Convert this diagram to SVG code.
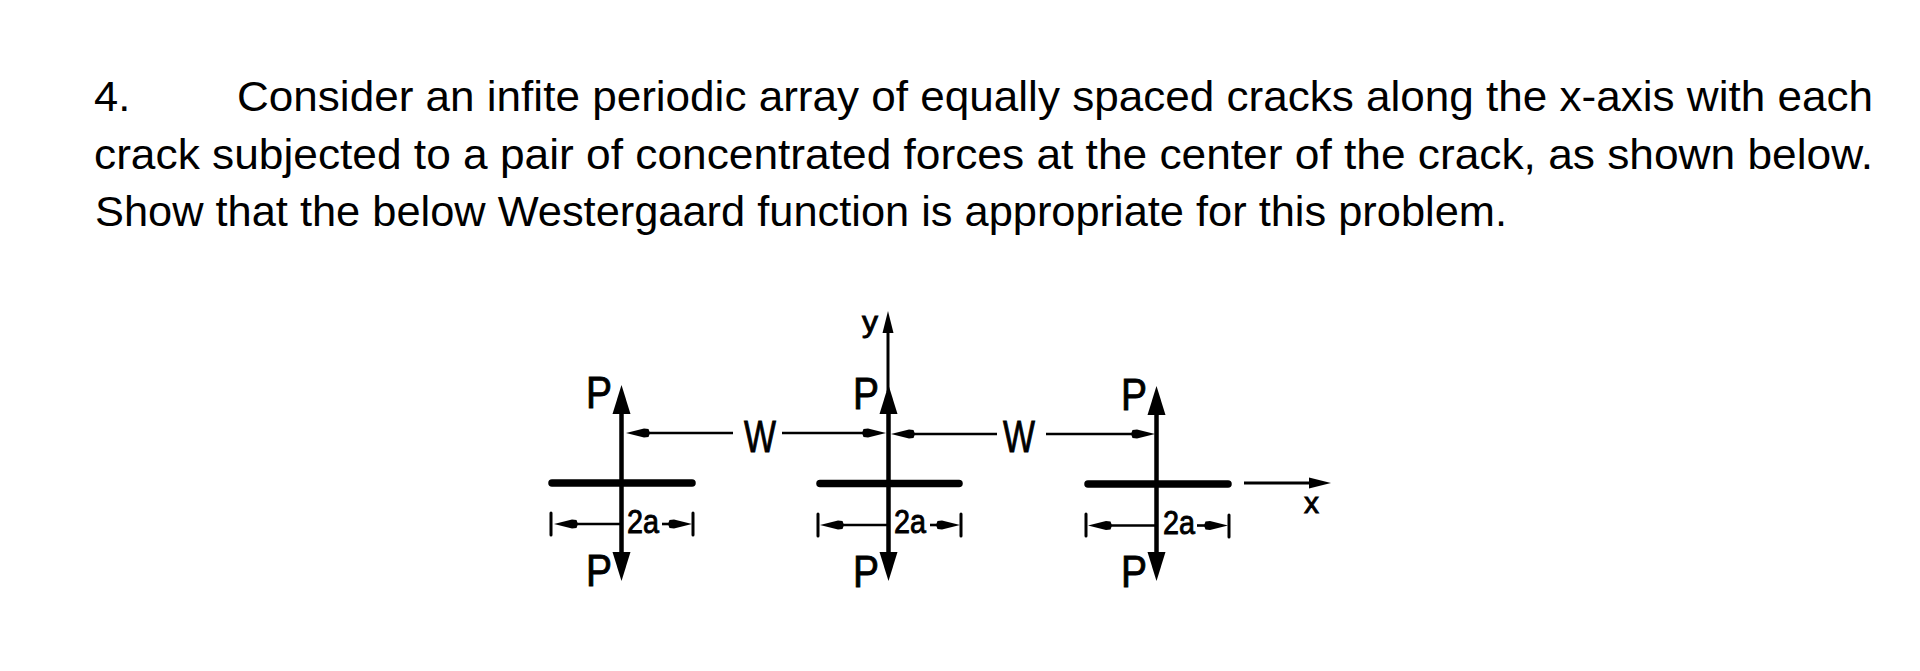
<svg xmlns="http://www.w3.org/2000/svg" width="1920" height="671" viewBox="0 0 1920 671">
<style>
.body{font-family:"Liberation Sans",Arial,sans-serif;font-size:43.4px;fill:#000}
.lab{font-family:"Liberation Sans",Arial,sans-serif;fill:#000;stroke:#000;stroke-width:.9}
.p{font-size:44px}
.w{font-size:45px}
.t{font-size:33px}
.ax{font-size:30px}
.stem{stroke:#000;stroke-width:4.5;fill:none;marker-start:url(#force);marker-end:url(#force)}
.crack{stroke:#000;stroke-width:7.5;stroke-linecap:round;fill:none}
.tick{stroke:#000;stroke-width:3;stroke-linecap:round;fill:none}
.dim{stroke:#000;stroke-width:2.6;fill:none;marker-end:url(#small)}
.axis{stroke:#000;stroke-width:3;fill:none}
</style>
<defs>
<marker id="force" markerUnits="userSpaceOnUse" markerWidth="30" markerHeight="20" refX="0" refY="10" orient="auto-start-reverse" viewBox="0 0 30 20"><polygon points="0,1 29,10 0,19"/></marker>
<marker id="small" markerUnits="userSpaceOnUse" markerWidth="28" markerHeight="14" refX="2" refY="7" orient="auto" viewBox="0 0 28 14"><polygon points="0,7 1.500,3 6,2.400 24,7 6,11.600 1.500,11"/></marker>
<marker id="axhead" markerUnits="userSpaceOnUse" markerWidth="28" markerHeight="14" refX="1" refY="7" orient="auto" viewBox="0 0 28 14"><polygon points="0,1.500 22,7 0,12.500"/></marker>
</defs>
<rect width="1920" height="671" fill="#fff"/>
<g id="problem-text">
<text class="body" x="94" y="111">4.</text>
<text class="body" x="237" y="111" textLength="1636" lengthAdjust="spacingAndGlyphs">Consider an infite periodic array of equally spaced cracks along the x-axis with each</text>
<text class="body" x="94" y="169" textLength="1779" lengthAdjust="spacingAndGlyphs">crack subjected to a pair of concentrated forces at the center of the crack, as shown below.</text>
<text class="body" x="95" y="226" textLength="1412" lengthAdjust="spacingAndGlyphs">Show that the below Westergaard function is appropriate for this problem.</text>
</g>
<g id="connectors">
<line class="dim" x1="733" y1="433" x2="648" y2="433"/>
<line class="dim" x1="782" y1="433" x2="864" y2="433"/>
<line class="dim" x1="997" y1="434" x2="913" y2="434"/>
<line class="dim" x1="1046" y1="434" x2="1133" y2="434"/>
<line class="axis" x1="1244" y1="483" x2="1310" y2="483" marker-end="url(#axhead)"/>
<line class="axis" x1="888" y1="392" x2="888" y2="332" marker-end="url(#axhead)"/>
</g>
<g id="crack-left">
<line class="stem" x1="621.500" y1="414" x2="621.500" y2="552"/>
<line class="crack" x1="552" y1="483" x2="692" y2="483"/>
<path class="tick" d="M551 513V535M693 513V535"/>
<line class="dim" x1="621" y1="524" x2="576" y2="524"/>
<line class="dim" x1="662" y1="524" x2="670" y2="524"/>
<text class="lab p" x="586" y="408" textLength="26" lengthAdjust="spacingAndGlyphs">P</text>
<text class="lab p" x="586" y="586" textLength="26" lengthAdjust="spacingAndGlyphs">P</text>
<text class="lab t" x="627" y="533" textLength="32" lengthAdjust="spacingAndGlyphs">2a</text>
</g>
<g id="crack-center">
<line class="stem" x1="888.500" y1="414" x2="888.500" y2="552"/>
<line class="crack" x1="820" y1="483.500" x2="959" y2="483.500"/>
<path class="tick" d="M818 514V536M961 514V536"/>
<line class="dim" x1="888" y1="525" x2="842" y2="525"/>
<line class="dim" x1="930" y1="525" x2="938" y2="525"/>
<text class="lab p" x="853" y="409" textLength="26" lengthAdjust="spacingAndGlyphs">P</text>
<text class="lab p" x="853" y="587" textLength="26" lengthAdjust="spacingAndGlyphs">P</text>
<text class="lab t" x="894" y="533" textLength="32" lengthAdjust="spacingAndGlyphs">2a</text>
<text class="lab ax" x="862" y="332" textLength="16" lengthAdjust="spacingAndGlyphs">y</text>
</g>
<g id="crack-right">
<line class="stem" x1="1156.500" y1="415" x2="1156.500" y2="552"/>
<line class="crack" x1="1088" y1="484" x2="1228" y2="484"/>
<path class="tick" d="M1086 514V536M1229 515V537"/>
<line class="dim" x1="1156" y1="525.500" x2="1110" y2="525.500"/>
<line class="dim" x1="1197" y1="525.500" x2="1206" y2="525.500"/>
<text class="lab p" x="1121" y="410" textLength="26" lengthAdjust="spacingAndGlyphs">P</text>
<text class="lab p" x="1121" y="587" textLength="26" lengthAdjust="spacingAndGlyphs">P</text>
<text class="lab t" x="1163" y="534" textLength="32" lengthAdjust="spacingAndGlyphs">2a</text>
</g>
<g id="label-w-left"><text class="lab w" x="744" y="452" textLength="32" lengthAdjust="spacingAndGlyphs">W</text></g>
<g id="label-w-right"><text class="lab w" x="1003" y="452" textLength="32" lengthAdjust="spacingAndGlyphs">W</text></g>
<g id="label-x"><text class="lab ax" x="1304" y="513" textLength="15" lengthAdjust="spacingAndGlyphs">x</text></g>
</svg>
